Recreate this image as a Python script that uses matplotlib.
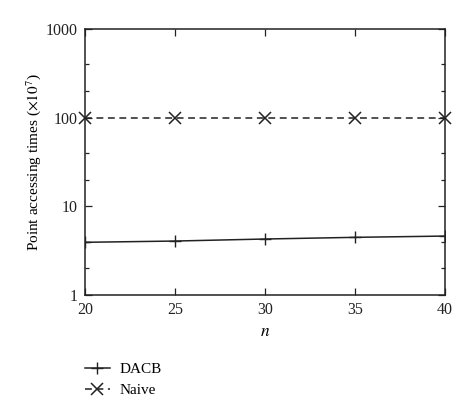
import matplotlib
matplotlib.use("Agg")
import matplotlib.pyplot as plt
from matplotlib.ticker import FixedLocator, NullFormatter

n_values = [20, 25, 30, 35, 40]
dacb = [3.93, 4.06, 4.28, 4.47, 4.62]
naive = [100, 100, 100, 100, 100]
x_ticks = [20, 25, 30, 35, 40]
y_ticks = [1, 10, 100, 1000]
y_ticklabels = ["1", "10", "100", "1000"]

plt.rcParams['font.family'] = ['Liberation Serif', 'DejaVu Serif']
plt.rcParams['mathtext.fontset'] = 'stix'

fig = plt.figure(figsize=(4.74, 4.15), dpi=100)
ax = fig.add_axes([85/474, 1 - 295/415, 360/474, 266/415])

l1, = ax.plot(n_values, dacb, color='#222222', lw=1.1, marker='+', ms=9, mew=1.0, label='DACB')
l2, = ax.plot(n_values, naive, color='#222222', lw=1.1, ls=(0, (4.5, 3)), marker='x', ms=8,
              mew=1.1, label='Naive', clip_on=False)

ax.set_yscale('log')
ax.set_xlim(20, 40)
ax.set_ylim(1, 1000)
ax.set_xticks(x_ticks)
ax.set_xticklabels([str(v) for v in x_ticks])
ax.set_yticks(y_ticks)
ax.set_yticklabels(y_ticklabels)
ax.yaxis.set_minor_locator(FixedLocator([2, 4, 20, 40, 200, 400]))
ax.yaxis.set_minor_formatter(NullFormatter())

ax.tick_params(which='both', direction='in', top=True, right=True, labelsize=11.5, colors='#222222', width=0.9)
ax.tick_params(which='major', length=5)
ax.tick_params(axis='x', which='major', pad=5)
ax.tick_params(axis='y', which='major', pad=5)
ax.tick_params(which='minor', length=3)
for s in ax.spines.values():
    s.set_linewidth(1.1)
    s.set_color('#222222')

ax.set_xlabel('$n$', fontsize=12.5, labelpad=4)
ax.set_ylabel(r'Point accessing times ($\times10^7$)', fontsize=11, labelpad=2)

fig.legend(handles=[l1, l2], loc='upper left', bbox_to_anchor=(71/474, 1 - 349/415),
           frameon=False, fontsize=11, handlelength=1.65, handletextpad=0.65, labelspacing=0.45)

fig.savefig('out.png', dpi=100, facecolor='white')
